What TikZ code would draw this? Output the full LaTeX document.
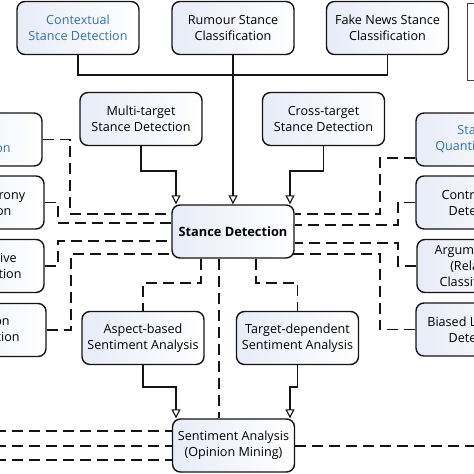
\documentclass[tikz,border=0pt]{standalone}
\usepackage{fontspec}
\setmainfont{Open Sans}
\usetikzlibrary{arrows.meta,calc}
\definecolor{boxline}{RGB}{20,20,20}
\definecolor{boxtint}{RGB}{232,236,248}
\definecolor{taskblue}{RGB}{46,116,181}
\tikzset{
  task/.style={draw=boxline, line width=1.4pt, rounded corners=8pt, left color=boxtint, right color=white,
    minimum width=122pt, minimum height=53pt, align=center, inner sep=1pt,
    font=\fontsize{12.6}{16}\selectfont},
  bluetask/.style={task, text=taskblue},
  maintask/.style={task, font=\fontsize{12.8}{16}\selectfont\bfseries},
  arrline/.style={line width=1.3pt, draw=boxline, -{Triangle[open, length=9pt, width=9pt, line width=1.1pt]}},
  dashline/.style={line width=1.3pt, draw=boxline, dash pattern=on 11pt off 6pt},
  plainline/.style={line width=1.3pt, draw=boxline}
}
\begin{document}
\begin{tikzpicture}[x=1pt,y=-1pt]
\useasboundingbox (0,0) rectangle (474,474);
\clip (0,0) rectangle (474,474);
\fill[white] (0,0) rectangle (474,474);

\node[bluetask] (ctx) at (78,28) {Contextual\\Stance Detection};
\node[task] (rumour) at (233,28) {Rumour Stance\\Classification};
\node[task] (fake) at (387.5,28) {Fake News Stance\\Classification};
\draw[line width=0.9pt, draw=boxline!80] (467,3) rectangle (490,80);

\node[task] (multi) at (141,119) {Multi-target\\Stance Detection};
\node[task] (cross) at (323.5,119) {Cross-target\\Stance Detection};

\node[maintask] (stance) at (233,231.5) {Stance Detection};

\node[bluetask] (pred) at (-19,139.5) {Stance\\Prediction};
\node[task] (irony) at (-17,202.5) {Sarcasm/Irony\\Detection};
\node[task] (persp) at (-17,266) {Perspective\\Identification};
\node[task] (emo) at (-15,330) {Emotion\\Recognition};

\node[bluetask] (quant) at (477,139.5) {Stance\\Quantification};
\node[task] (contro) at (477,202.5) {Controversy\\Detection};
\node[task] (argu) at (478,266) {Argumentative\\(Relation)\\Classification};
\node[task] (biased) at (477,329.5) {Biased Language\\Detection};

\node[task] (aspect) at (143,338) {Aspect-based\\Sentiment Analysis};
\node[task] (target) at (297.5,338) {Target-dependent\\Sentiment Analysis};

\node[task] (senti) at (233.5,445.5) {Sentiment Analysis\\(Opinion Mining)};

\coordinate (left1) at (-5,431);
\coordinate (left2) at (-5,446);
\coordinate (left3) at (-5,460);
\coordinate (right1) at (480,446);

\draw[plainline] (ctx.south) -- (78,75) -| (fake.south);
\draw[arrline] (rumour.south) -- (rumour.south |- stance.north);
\draw[arrline] (multi.south) -- (141,171) -| (176,0 |- stance.north);
\draw[arrline] (cross.south) -- (323.5,171) -| (290,0 |- stance.north);

\draw[dashline] (pred.east) -- (70,139.5) |- (stance.west |- 0,214);
\draw[dashline] (irony.east) -- (58,202.5) |- (stance.west |- 0,223);
\draw[dashline] (persp.east) -- (58,266) |- (stance.west |- 0,241);
\draw[dashline] (emo.east) -- (71,330) |- (173,254);

\draw[dashline] (quant.west |- 0,158) -- (380,158) |- (stance.east |- 0,214);
\draw[dashline] (contro.west) -- (398,202.5) |- (stance.east |- 0,225);
\draw[dashline] (argu.west) -- (398,266) |- (stance.east |- 0,243);
\draw[dashline] (biased.west) -- (380,329.5) |- (293,254);

\draw[dashline] (201,0 |- stance.south) -- (201,283) -| (aspect.north);
\draw[dashline] (219,0 |- stance.south) -- (219,0 |- senti.north);
\draw[dashline] (256,0 |- stance.south) -- (256,283) -| (target.north);

\draw[arrline] (aspect.south) -- (143,387) -| (176,0 |- senti.north);
\draw[arrline] (target.south) -- (297.5,387) -| (290,0 |- senti.north);

\draw[dashline] (left1) -- (senti.west |- left1);
\draw[dashline] (left2) -- (senti.west |- left2);
\draw[dashline] (left3) -- (senti.west |- left3);
\draw[dashline] (senti.east |- right1) -- (right1);
\end{tikzpicture}
\end{document}
